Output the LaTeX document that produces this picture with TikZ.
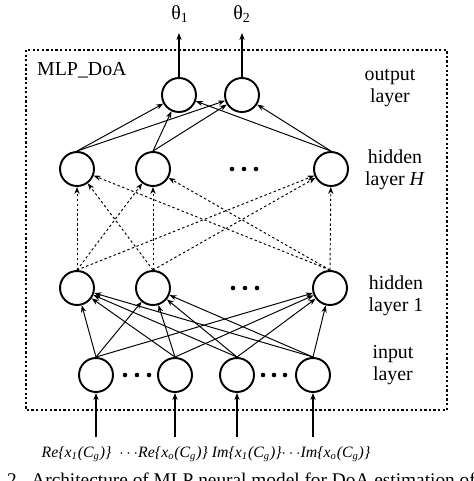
\documentclass[tikz,border=0pt]{standalone}
\usepackage{fontspec}
\setmainfont{Liberation Serif}
\usetikzlibrary{arrows.meta}
\tikzset{
	neuron/.style={draw, circle, line width=1.1pt, minimum size=0.68cm, inner sep=0pt},
	link/.style={line width=0.55pt, -{Stealth[length=4pt,width=3pt]}},
	dottedlink/.style={link, dash pattern=on 1.4pt off 1.4pt},
	layername/.style={align=center, font=\fontsize{11.3}{12.5}\selectfont},
}

\begin{document}
\begin{tikzpicture}[x=0.02cm, y=-0.02cm]
		%%%%% START %%%%%
		\useasboundingbox (0, 0) rectangle (474, 481);
		
		\draw[line width=0.6pt, dash pattern=on 1.3pt off 1.3pt] (26, 50) rectangle (447, 410);
		\node[anchor=west, font=\fontsize{11.3}{12}\selectfont] (name) at (31, 70) {MLP\_DoA};
		
		%% output layer
		\node[neuron] (o1) at (179, 95) {};
		\node[neuron] (o2) at (242, 95) {};
		
		%% hidden layer H
		\node[neuron] (hH1) at (77, 169) {};
		\node[neuron] (hH2) at (153, 169) {};
		\node[neuron] (hH3) at (331, 169) {};
		\fill (232, 169) circle (1.3pt) (244, 169) circle (1.3pt) (256, 169) circle (1.3pt);
		
		%% hidden layer 1
		\node[neuron] (hA1) at (77, 288) {};
		\node[neuron] (hA2) at (153, 288) {};
		\node[neuron] (hA3) at (330, 288) {};
		\fill (233, 288) circle (1.3pt) (245, 288) circle (1.3pt) (257, 288) circle (1.3pt);
		
		%% input layer
		\node[neuron] (in1) at (96, 375) {};
		\node[neuron] (in2) at (175, 375) {};
		\node[neuron] (in3) at (237, 375) {};
		\node[neuron] (in4) at (313, 375) {};
		\fill (125, 375) circle (1.3pt) (137, 375) circle (1.3pt) (149, 375) circle (1.3pt);
		\fill (263, 375) circle (1.3pt) (274, 375) circle (1.3pt) (285, 375) circle (1.3pt);
		
		%% layer names
		\node[layername] (lo) at (390, 88) {output\\layer};
		\node[layername] (lH) at (395, 170) {hidden\\layer \textit{H}};
		\node[layername] (l1) at (396, 296) {hidden\\layer 1};
		\node[layername] (li) at (393, 365) {input\\layer};
		
		%% outputs
		\coordinate (t1) at (179, 33);
		\coordinate (t2) at (242, 33);
		\draw[link, line width=0.8pt] (o1.north) -- (t1);
		\draw[link, line width=0.8pt] (o2.north) -- (t2);
		\node[font=\fontsize{11.3}{12}\selectfont] (theta1) at (180, 14) {θ\textsubscript{1}};
		\node[font=\fontsize{11.3}{12}\selectfont] (theta2) at (242, 14) {θ\textsubscript{2}};
		
		%% hidden layer H -> output layer
		\draw[link] (hH1.north) -- (o1);
		\draw[link] (hH1.north) -- (o2);
		\draw[link] (hH2.north) -- (o1);
		\draw[link] (hH2.north) -- (o2);
		\draw[link] (hH3.north) -- (o1);
		\draw[link] (hH3.north) -- (o2);
		
		%% hidden layer 1 -> hidden layer H
		\draw[dottedlink] (hA1.north) -- (hH1);
		\draw[dottedlink] (hA1.north) -- (hH2);
		\draw[dottedlink] (hA1.north) -- (hH3);
		\draw[dottedlink] (hA2.north) -- (hH1);
		\draw[dottedlink] (hA2.north) -- (hH2);
		\draw[dottedlink] (hA2.north) -- (hH3);
		\draw[dottedlink] (hA3.north) -- (hH1);
		\draw[dottedlink] (hA3.north) -- (hH2);
		\draw[dottedlink] (hA3.north) -- (hH3);
		
		%% input layer -> hidden layer 1
		\draw[link] (in1.north) -- (hA1);
		\draw[link] (in1.north) -- (hA2);
		\draw[link] (in1.north) -- (hA3);
		\draw[link] (in2.north) -- (hA1);
		\draw[link] (in2.north) -- (hA2);
		\draw[link] (in2.north) -- (hA3);
		\draw[link] (in3.north) -- (hA1);
		\draw[link] (in3.north) -- (hA2);
		\draw[link] (in3.north) -- (hA3);
		\draw[link] (in4.north) -- (hA1);
		\draw[link] (in4.north) -- (hA2);
		\draw[link] (in4.north) -- (hA3);
		
		%% inputs
		\coordinate (b1) at (96, 437);
		\coordinate (b2) at (175, 437);
		\coordinate (b3) at (237, 437);
		\coordinate (b4) at (313, 437);
		\draw[link, line width=0.8pt] (b1) -- (in1.south);
		\draw[link, line width=0.8pt] (b2) -- (in2.south);
		\draw[link, line width=0.8pt] (b3) -- (in3.south);
		\draw[link, line width=0.8pt] (b4) -- (in4.south);
		\node[font=\fontsize{9}{10}\selectfont\itshape] (signals) at (206, 454)
			{Re\{x\textsubscript{1}(C\textsubscript{g})\}\ \ $\cdots$Re\{x\textsubscript{o}(C\textsubscript{g})\}\ Im\{x\textsubscript{1}(C\textsubscript{g})\}$\cdots$Im\{x\textsubscript{o}(C\textsubscript{g})\}};
		
		\node[anchor=base west, font=\fontsize{11}{12}\selectfont] (caption) at (1, 486)
			{2.\ \ Architecture of MLP neural model for DoA estimation of};
		
		%%%%% END %%%%%
\end{tikzpicture}
\end{document}
